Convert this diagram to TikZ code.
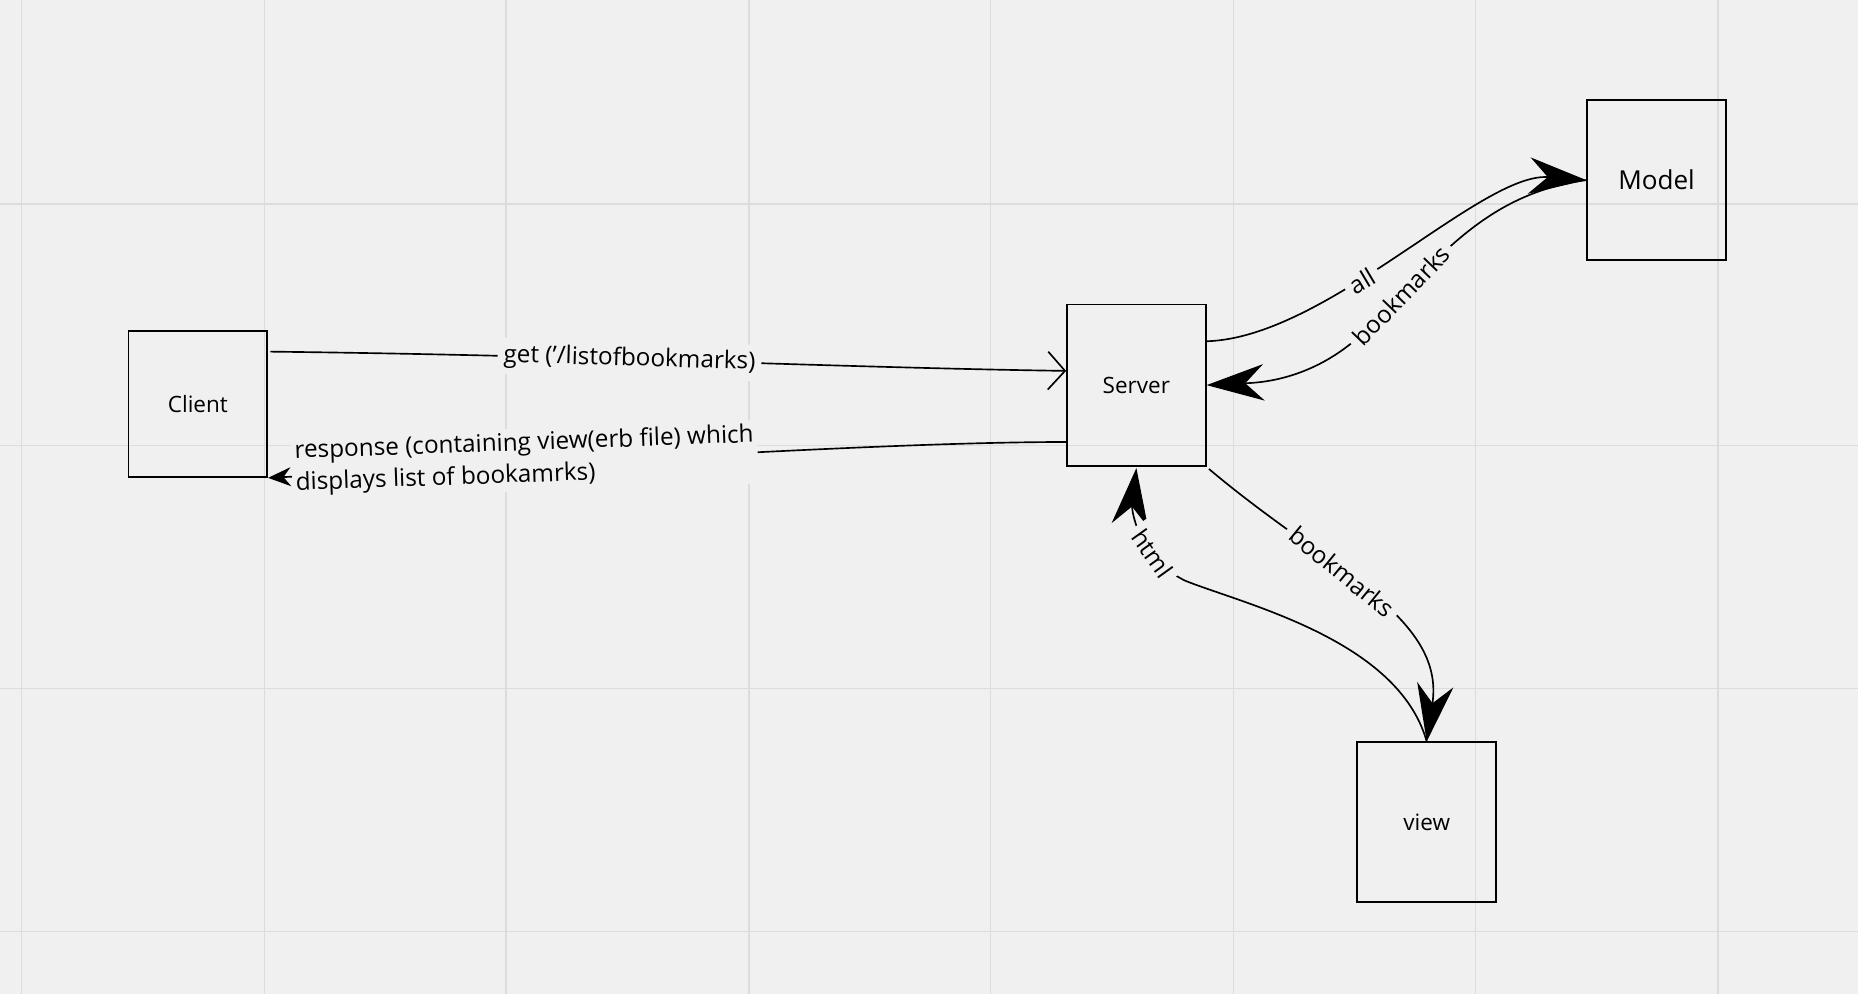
\documentclass[tikz,border=0pt]{standalone}
\usepackage{fontspec}
\setmainfont{Open Sans}
\usetikzlibrary{arrows.meta}
\definecolor{bg}{HTML}{F0F0F0}
\definecolor{gridc}{HTML}{DCDCDC}
\tikzset{
  box/.style={draw, line width=1.5pt, minimum width=117pt, minimum height=#1, inner sep=0pt},
  lbl/.style={fill=bg, inner sep=5pt, font=\fontsize{20.5}{27}\selectfont},
  conn/.style={draw, line width=1.4pt}
}
\begin{document}
\begin{tikzpicture}[x=1pt,y=-1pt]
				\fill[bg] (0,0) rectangle (1568,839);
				\useasboundingbox (0,0) rectangle (1568,839);
				\foreach \gx in {18,223,427,632,836,1041,1245,1450}
					\draw[gridc, line width=1.2pt] (\gx,0) -- (\gx,839);
				\foreach \gy in {172,376,581,786}
					\draw[gridc, line width=1.2pt] (0,\gy) -- (1568,\gy);

				\node[box=123pt, font=\fontsize{19}{24}\selectfont] (client) at (167,341) {Client};
				\node[box=136pt, font=\fontsize{19}{24}\selectfont] (server) at (959,325) {Server};
				\node[box=135pt, font=\fontsize{22}{26}\selectfont] (model) at (1398,152) {Model};
				\node[box=135pt, font=\fontsize{19}{24}\selectfont] (view) at (1204,694) {view};

				\path[conn, -{Straight Barb[scale=1.6,length=9pt,width=20pt,line width=1.4pt]}] (client.north east) ++(2,18) .. controls (500,300) and (700,310) .. (server.west |- 0,313)
					node[lbl, pos=0.41, sloped] {get ('/listofbookmarks)};
				\path[conn, -{Stealth[scale=1.6,length=12pt,width=10pt]}] (server.west |- 0,373) .. controls (750,373) and (500,390) .. (client.south east);
				\node[lbl, anchor=west, align=left, rotate=2, inner sep=3pt] (resplbl) at (246,395) {response (containing view(erb file) which\\displays list of bookamrks)};

				\path[conn, -{Stealth[scale=2.2,length=22pt,width=14pt]}] (server.east |- 0,288) .. controls (1120,285) and (1250,145) .. (model.west |- 0,152)
					node[lbl, pos=0.4, sloped] {all};
				\path[conn, -{Stealth[scale=2.2,length=22pt,width=14pt]}] (model.west |- 0,152) .. controls (1240,165) and (1200,240) .. (1140,290)
					node[lbl, pos=0.75, sloped] {bookmarks} .. controls (1100,322) and (1060,323) .. (server.east |- 0,325);
				\path[conn, -{Stealth[scale=2.2,length=22pt,width=14pt]}] (server.south east) ++(2,2) .. controls (1120,480) and (1220,520) .. (view.north)
					node[lbl, pos=0.4, sloped] {bookmarks};
				\path[conn, -{Stealth[scale=2.2,length=22pt,width=14pt]}] (view.north) .. controls (1180,540) and (1050,510) .. (1000,490) .. controls (960,470) and (955,430) .. (server.south |- 0,395)
					node[lbl, pos=0.3, sloped] {html};
			\end{tikzpicture}
\end{document}
